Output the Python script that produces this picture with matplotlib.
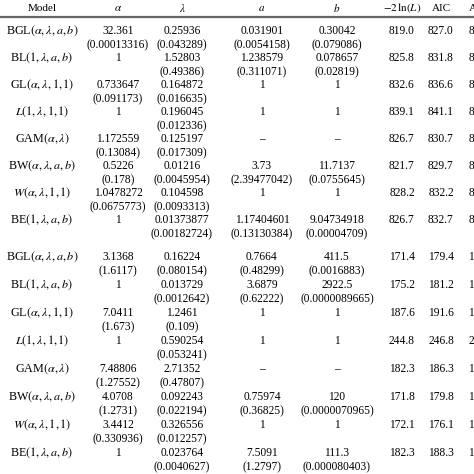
import matplotlib.pyplot as plt

plt.rcParams["font.family"] = ["Liberation Serif", "DejaVu Serif"]
plt.rcParams["mathtext.fontset"] = "stix"

headers = ["Model", r"$\alpha$", r"$\lambda$", r"$a$", r"$b$", r"$-2\,\ln(L)$", "AIC", "AICC"]

models = [
    r"BGL$(\alpha,\lambda,a,b)$",
    r"BL$(1,\lambda,a,b)$",
    r"GL$(\alpha,\lambda,1,1)$",
    r"$L(1,\lambda,1,1)$",
    r"GAM$(\alpha,\lambda)$",
    r"BW$(\alpha,\lambda,a,b)$",
    r"$W(\alpha,\lambda,1,1)$",
    r"BE$(1,\lambda,a,b)$",
]

# first data set: (estimate, std err) per parameter
alpha1 = [("32.361", "(0.00013316)"), ("1", ""), ("0.733647", "(0.091173)"), ("1", ""),
          ("1.172559", "(0.13084)"), ("0.5226", "(0.178)"), ("1.0478272", "(0.0675773)"), ("1", "")]
lam1 = [("0.25936", "(0.043289)"), ("1.52803", "(0.49386)"), ("0.164872", "(0.016635)"),
        ("0.196045", "(0.012336)"), ("0.125197", "(0.017309)"), ("0.01216", "(0.0045954)"),
        ("0.104598", "(0.0093313)"), ("0.01373877", "(0.00182724)")]
a1 = [("0.031901", "(0.0054158)"), ("1.238579", "(0.311071)"), ("1", ""), ("1", ""),
      ("–", ""), ("3.73", "(2.39477042)"), ("1", ""), ("1.17404601", "(0.13130384)")]
b1 = [("0.30042", "(0.079086)"), ("0.078657", "(0.02819)"), ("1", ""), ("1", ""),
      ("–", ""), ("11.7137", "(0.0755645)"), ("1", ""), ("9.04734918", "(0.00004709)")]
ll1 = ["819.0", "825.8", "832.6", "839.1", "826.7", "821.7", "828.2", "826.7"]
aic1 = ["827.0", "831.8", "836.6", "841.1", "830.7", "829.7", "832.2", "832.7"]
aicc1 = ["827.4", "832.1", "836.8", "841.2", "830.9", "830.1", "832.4", "833.0"]

# second data set
alpha2 = [("3.1368", "(1.6117)"), ("1", ""), ("7.0411", "(1.673)"), ("1", ""),
          ("7.48806", "(1.27552)"), ("4.0708", "(1.2731)"), ("3.4412", "(0.330936)"), ("1", "")]
lam2 = [("0.16224", "(0.080154)"), ("0.013729", "(0.0012642)"), ("1.2461", "(0.109)"),
        ("0.590254", "(0.053241)"), ("2.71352", "(0.47807)"), ("0.092243", "(0.022194)"),
        ("0.326556", "(0.012257)"), ("0.023764", "(0.0040627)")]
a2 = [("0.7664", "(0.48299)"), ("3.6879", "(0.62222)"), ("1", ""), ("1", ""),
      ("–", ""), ("0.75974", "(0.36825)"), ("1", ""), ("7.5091", "(1.2797)")]
b2 = [("411.5", "(0.0016883)"), ("2922.5", "(0.0000089665)"), ("1", ""), ("1", ""),
      ("–", ""), ("120", "(0.0000070965)"), ("1", ""), ("111.3", "(0.000080403)")]
ll2 = ["171.4", "175.2", "187.6", "244.8", "182.3", "171.8", "172.1", "182.3"]
aic2 = ["179.4", "181.2", "191.6", "246.8", "186.3", "179.8", "176.1", "188.3"]
aicc2 = ["180.2", "181.7", "191.9", "246.9", "186.6", "180.6", "176.4", "188.8"]

W, H = 474, 474
fig = plt.figure(figsize=(4.74, 4.74), dpi=100)
ax = fig.add_axes([0, 0, 1, 1])
ax.set_xlim(0, W)
ax.set_ylim(H, 0)
ax.axis("off")

col_x = [42, 118, 182, 262, 337, 402, 441, 468.5]
fs = 8.3

for i, h in enumerate(headers):
    ha = "left" if i == 7 else "center"
    ax.text(col_x[i], 8, h, ha=ha, va="center", fontsize=fs - 0.3)
ax.plot([0, W], [17, 17], color="#666666", lw=1.6)


def draw_block(y0, step, params, ll, aic, aicc):
    for r in range(len(models)):
        y = y0 + r * step
        ax.text(col_x[0], y, models[r], ha="center", va="center", fontsize=fs + 0.4)
        for c, col in enumerate(params):
            est, se = col[r]
            ax.text(col_x[c + 1], y, est, ha="center", va="center", fontsize=fs)
            if se:
                ax.text(col_x[c + 1], y + 14.5, se, ha="center", va="center", fontsize=fs)
        ax.text(col_x[5], y, ll[r], ha="center", va="center", fontsize=fs)
        ax.text(col_x[6], y, aic[r], ha="center", va="center", fontsize=fs)
        ax.text(col_x[7], y, aicc[r], ha="left", va="center", fontsize=fs)


draw_block(31, 27.0, [alpha1, lam1, a1, b1], ll1, aic1, aicc1)
draw_block(257, 28.0, [alpha2, lam2, a2, b2], ll2, aic2, aicc2)

fig.savefig("out.png", dpi=100)
